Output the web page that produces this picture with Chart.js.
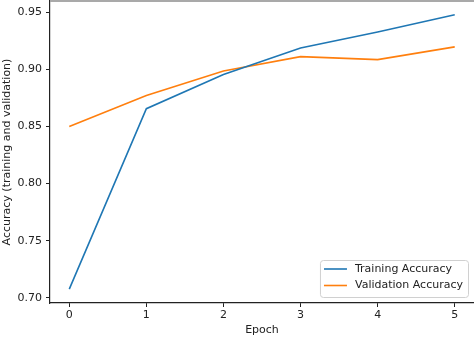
<!DOCTYPE html>
<html>
<head>
<meta charset="utf-8">
<title>Accuracy per epoch</title>
<script src="https://cdn.jsdelivr.net/npm/chart.js@4.4.1/dist/chart.umd.min.js"></script>
<style>
  html, body { margin: 0; padding: 0; background: #ffffff; }
  canvas { display: block; }
</style>
</head>
<body>
<canvas id="acc" width="474" height="337"></canvas>
<script>
// Epoch indices and accuracy per epoch
const epochs = [0, 1, 2, 3, 4, 5];
const trainingAccuracy = [0.7076, 0.8655, 0.8954, 0.9186, 0.9326, 0.9477];
const validationAccuracy = [0.8500, 0.8770, 0.8985, 0.9110, 0.9084, 0.9196];
const xTicks = [0, 1, 2, 3, 4, 5];
const yTicks = [0.70, 0.75, 0.80, 0.85, 0.90, 0.95];
const seriesNames = ['Training Accuracy', 'Validation Accuracy'];

const BLUE = '#1f77b4';
const ORANGE = '#ff7f0e';
const FONT = 'DejaVu Sans';
const INK = '#222222';

const toPoints = (ys) => epochs.map((e, i) => ({ x: e, y: ys[i] }));

// Scales keep the plot edge-to-edge: no extra room reserved for half tick labels
const noEdgePadding = (scale) => {
  scale.paddingTop = 0;
  scale.paddingBottom = 0;
  scale.paddingLeft = 0;
  scale.paddingRight = 0;
};

// Top frame line and a boxed legend in the lower-right corner of the plot
const framePlugin = {
  id: 'frameAndLegend',
  afterDraw(chart) {
    const { ctx, chartArea } = chart;
    ctx.save();
    ctx.strokeStyle = '#a9a9a9';
    ctx.lineWidth = 2;
    ctx.beginPath();
    ctx.moveTo(chartArea.left, chartArea.top);
    ctx.lineTo(chartArea.right, chartArea.top);
    ctx.stroke();

    const ds = chart.data.datasets;
    ctx.font = '11px "' + FONT + '"';
    const textW = Math.max(...ds.map(d => ctx.measureText(d.label).width));
    const boxW = 4 + 23 + 8 + textW + 5;
    const rowH = 16.5;
    const boxH = 4 + rowH * ds.length;
    const x0 = chartArea.right - 6 - boxW;
    const y0 = chartArea.bottom - 6 - boxH;
    ctx.fillStyle = 'rgba(255,255,255,0.85)';
    ctx.strokeStyle = '#d0d0d0';
    ctx.lineWidth = 1;
    ctx.beginPath();
    ctx.roundRect(x0 + 0.5, y0 + 0.5, boxW, boxH, 3);
    ctx.fill();
    ctx.stroke();
    ds.forEach((d, i) => {
      const cy = y0 + 9 + i * rowH;
      ctx.strokeStyle = d.borderColor;
      ctx.lineWidth = 1.6;
      ctx.beginPath();
      ctx.moveTo(x0 + 4, cy);
      ctx.lineTo(x0 + 27, cy);
      ctx.stroke();
      ctx.fillStyle = INK;
      ctx.textBaseline = 'middle';
      ctx.textAlign = 'left';
      ctx.fillText(d.label, x0 + 35, cy);
    });
    ctx.restore();
  }
};

new Chart(document.getElementById('acc'), {
  type: 'line',
  data: {
    datasets: [
      {
        label: seriesNames[0],
        data: toPoints(trainingAccuracy),
        borderColor: BLUE,
        backgroundColor: BLUE,
        borderWidth: 1.6,
        pointRadius: 0,
        tension: 0,
        fill: false
      },
      {
        label: seriesNames[1],
        data: toPoints(validationAccuracy),
        borderColor: ORANGE,
        backgroundColor: ORANGE,
        borderWidth: 1.6,
        pointRadius: 0,
        tension: 0,
        fill: false
      }
    ]
  },
  options: {
    responsive: false,
    devicePixelRatio: 1,
    animation: false,
    layout: { padding: { top: 1, right: 0, left: 0, bottom: 0 } },
    plugins: {
      legend: { display: false },
      tooltip: { enabled: false }
    },
    scales: {
      x: {
        type: 'linear',
        min: -0.25,
        max: 5.25,
        afterBuildTicks: (scale) => { scale.ticks = xTicks.map(v => ({ value: v })); },
        afterFit: (scale) => { scale.height = 34; noEdgePadding(scale); },
        grid: { drawOnChartArea: false, drawTicks: true, tickLength: 4, color: INK, lineWidth: 1 },
        border: { display: true, color: INK, width: 1.2 },
        ticks: {
          color: INK,
          font: { family: FONT, size: 11 },
          padding: 2,
          maxRotation: 0,
          callback: (v) => String(v)
        },
        title: {
          display: true,
          text: 'Epoch',
          color: INK,
          font: { family: FONT, size: 11 },
          padding: { top: 0, bottom: 0.5 }
        }
      },
      y: {
        type: 'linear',
        min: 0.6955,
        max: 0.9597,
        afterBuildTicks: (scale) => { scale.ticks = yTicks.map(v => ({ value: v })); },
        afterFit: (scale) => { scale.width = 50; noEdgePadding(scale); },
        grid: { drawOnChartArea: false, drawTicks: true, tickLength: 4, color: INK, lineWidth: 1 },
        border: { display: true, color: INK, width: 1.2 },
        ticks: {
          color: INK,
          font: { family: FONT, size: 11 },
          padding: 4,
          callback: (v) => Number(v).toFixed(2)
        },
        title: {
          display: true,
          text: 'Accuracy (training and validation)',
          color: INK,
          font: { family: FONT, size: 11 },
          padding: { top: 0.5, bottom: 0 }
        }
      }
    }
  },
  plugins: [framePlugin]
});
</script>
</body>
</html>
